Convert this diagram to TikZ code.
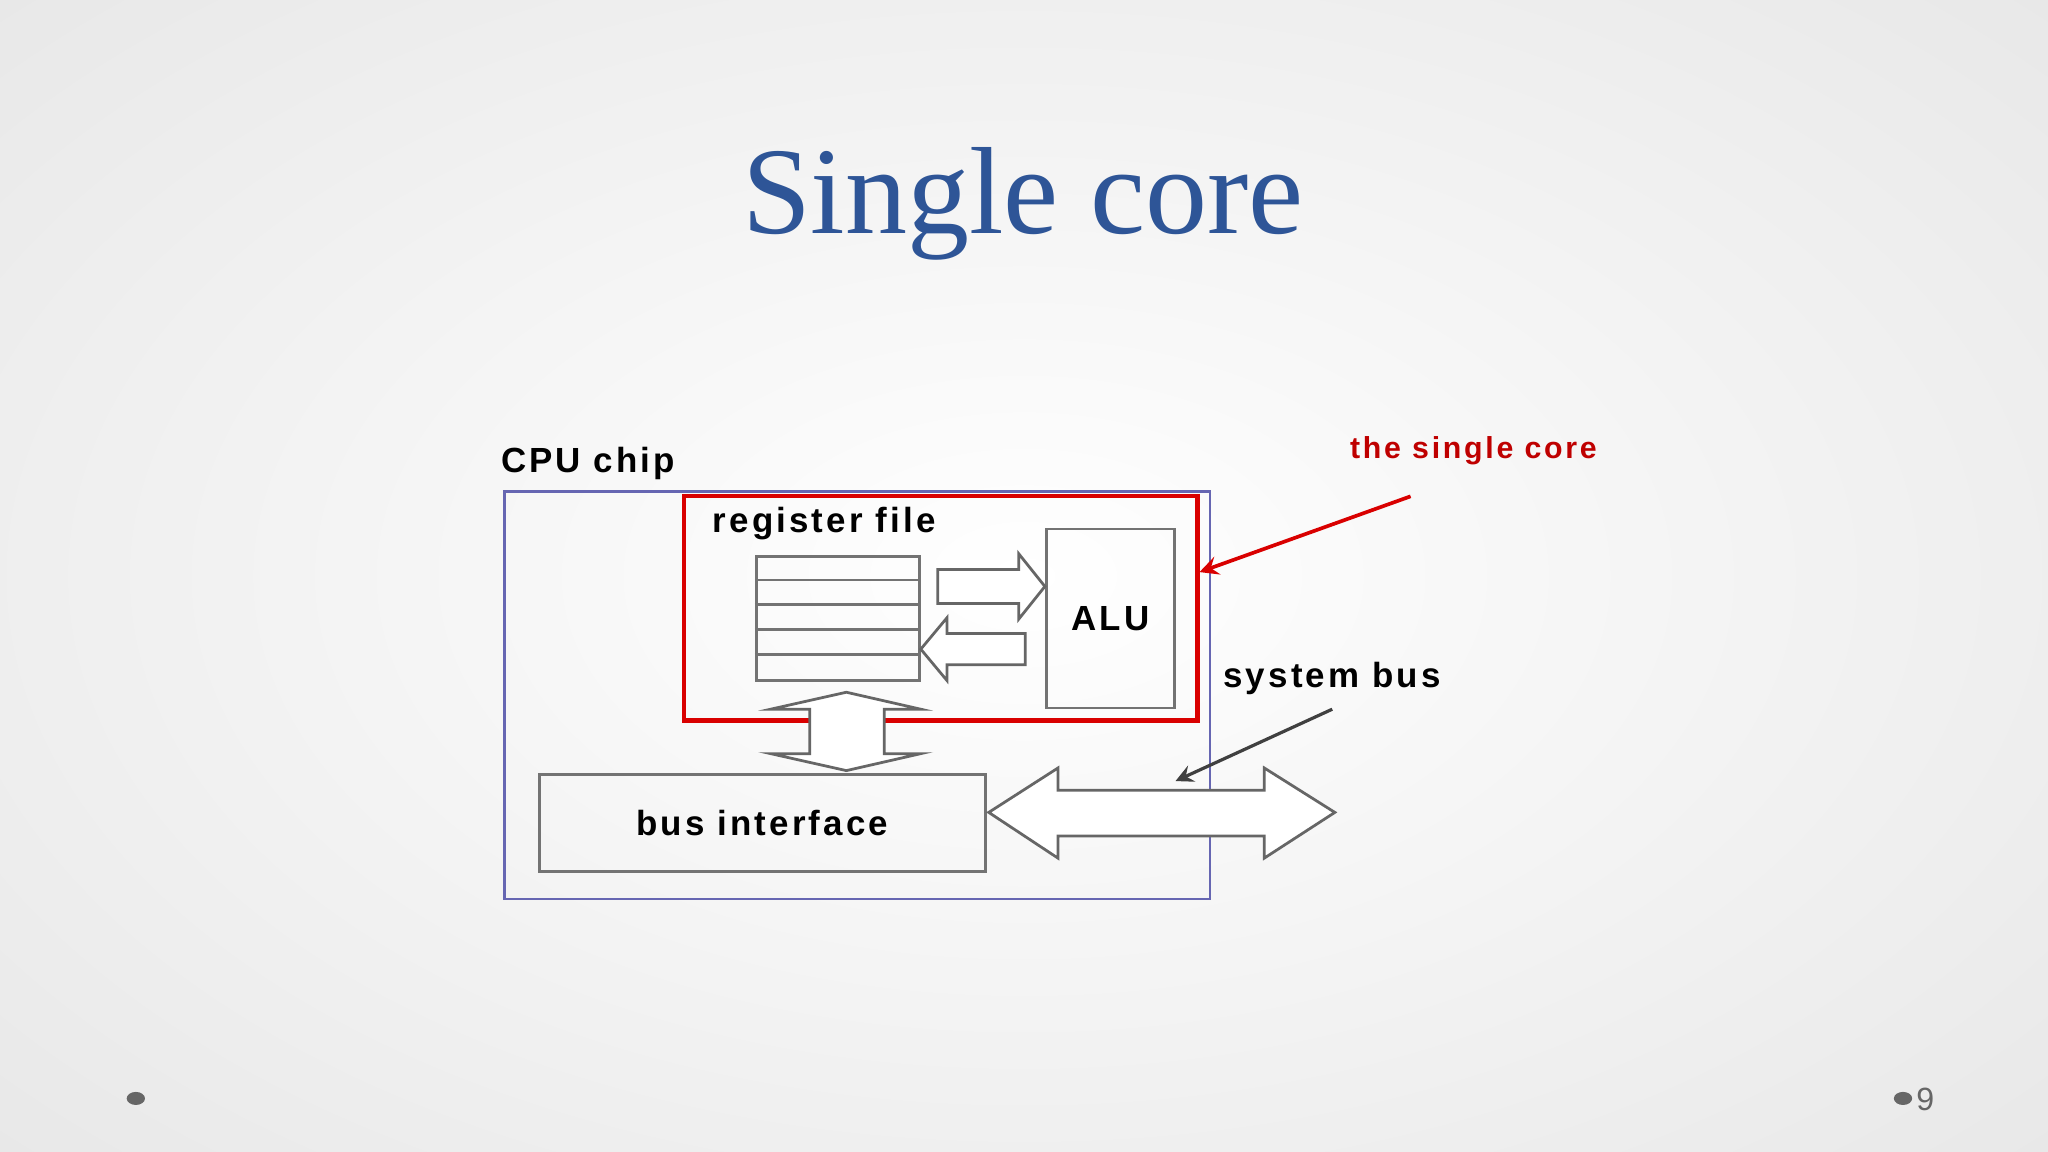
\documentclass[tikz,border=0pt]{standalone}
\usepackage{fontspec}
\setmainfont{Liberation Serif}
\newfontfamily\sansb{Liberation Sans}[LetterSpace=9]
\newfontfamily\sansn{Liberation Sans}
\begin{document}
\begin{tikzpicture}[x=0.01cm,y=-0.01cm,
  lbl/.style={font=\sansb\bfseries\fontsize{7.6}{9}\selectfont,inner sep=0},
  thin box/.style={draw=black!55,line width=0.6pt},
  hollow/.style={draw=black!60,fill=white,line width=0.6pt,line join=miter}]
\definecolor{titleblue}{HTML}{2E5597}
\useasboundingbox (0,0) rectangle (1568,882);
\shade[inner color=white,outer color=black!9] (-300,-200) rectangle (1868,1082);
\node (title) at (783,156) {\fontsize{27}{30}\selectfont\color{titleblue}Single core};
% CPU chip
\node[thin box,draw=black!50!blue!60,minimum width=5.4cm,minimum height=3.12cm,anchor=north west,inner sep=0] (cpu) at (385,375) {};
\node[lbl,anchor=south west] (cpulbl) at (383,368) {CPU chip};
% core
\node[draw=red!85!black,line width=0.9pt,minimum width=3.93cm,minimum height=1.72cm,anchor=north west,inner sep=0] (core) at (522,378) {};
\node[lbl,anchor=south west] (reglbl) at (545,414) {register file};
% register stack
\node[thin box,minimum width=1.25cm,minimum height=0.95cm,anchor=north west,inner sep=0] (reg) at (578,425) {};
\foreach \y in {444,463,482,501} \draw[black!55,line width=0.6pt] (578,\y) -- (703,\y);
% ALU
\node[thin box,minimum width=0.98cm,minimum height=1.37cm,anchor=north west,inner sep=0] (alu) at (800,404) {};
\node[lbl] (alulbl) at (alu.center) {ALU};
% arrows reg <-> alu
\draw[hollow] (718,436) -- (780,436) -- (780,424) -- (800,449) -- (780,474) -- (780,462) -- (718,462) -- cycle;
\draw[hollow] (785,485) -- (725,485) -- (725,473) -- (705,497) -- (725,521) -- (725,509) -- (785,509) -- cycle;
% vertical double arrow
\draw[hollow] (648,530) -- (705,543) -- (677,543) -- (677,577) -- (705,577) -- (648,590) -- (590,577) -- (620,577) -- (620,543) -- (590,543) -- cycle;
% bus interface
\node[thin box,minimum width=3.41cm,minimum height=0.74cm,anchor=north west,inner sep=0] (bus) at (412,592) {};
\node[lbl] (buslbl) at (bus.center) {bus interface};
% system bus arrow
\draw[hollow] (757,622) -- (810,588) -- (810,605) -- (968,605) -- (968,588) -- (1022,622) -- (968,657) -- (968,640) -- (810,640) -- (810,657) -- cycle;
\node[lbl,anchor=south west] (sblbl) at (936,533) {system bus};
\coordinate (sbtip) at (900,598);
\draw[black!75,line width=0.7pt,-stealth] (1020,543) -- (sbtip);
% single core label
\node[lbl,text=red!75!black,font=\sansb\bfseries\fontsize{6.6}{8}\selectfont,anchor=south west] (sclbl) at (1033,357) {the single core};
\coordinate (sctail) at (1080,380);
\draw[red!85!black,line width=0.8pt,-stealth] (sctail) -- (core.east |- 0,438);
% footer
\fill[black!60] (104,841) ellipse (7 and 5);
\fill[black!60] (1457,841) ellipse (7 and 5);
\node[text=black!60,font=\sansn\fontsize{7}{8}\selectfont] (num) at (1474,842) {9};
\end{tikzpicture}
\end{document}
